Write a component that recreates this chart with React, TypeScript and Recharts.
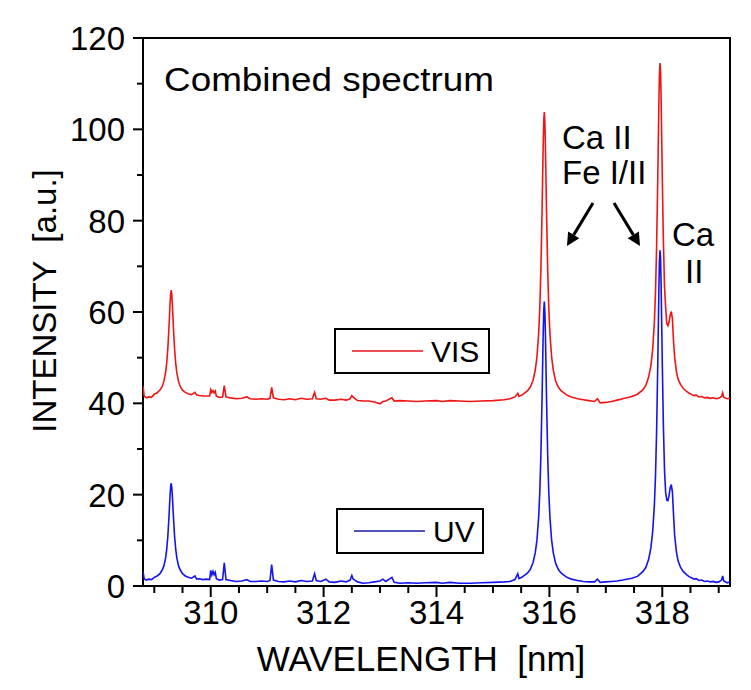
import React from 'react';
import { LineChart, Line, XAxis, YAxis, ReferenceArea, Legend } from 'recharts';

const wavelength = [
  308.80, 308.82, 308.86, 308.90, 308.95, 309.00, 309.05, 309.10, 309.14, 309.17,
  309.20, 309.22, 309.24, 309.26, 309.28, 309.29, 309.30, 309.31, 309.32, 309.34,
  309.36, 309.38, 309.40, 309.43, 309.46, 309.50, 309.55, 309.60, 309.66, 309.72,
  309.75, 309.80, 309.86, 309.92, 309.98, 310.00, 310.02, 310.04, 310.06, 310.08,
  310.10, 310.15, 310.21, 310.24, 310.27, 310.35, 310.45, 310.55, 310.64, 310.70,
  310.80, 310.90, 311.00, 311.05, 311.08, 311.11, 311.20, 311.30, 311.40, 311.50,
  311.60, 311.70, 311.80, 311.84, 311.87, 311.95, 312.04, 312.10, 312.20, 312.31,
  312.40, 312.47, 312.50, 312.52, 312.55, 312.60, 312.70, 312.80, 312.90, 313.00,
  313.05, 313.10, 313.21, 313.25, 313.35, 313.50, 313.65, 313.80, 314.00, 314.10,
  314.24, 314.40, 314.60, 314.80, 315.00, 315.20, 315.30, 315.39, 315.44, 315.46,
  315.51, 315.61, 315.66, 315.71, 315.75, 315.78, 315.81, 315.83, 315.85, 315.87,
  315.89, 315.90, 315.91, 315.92, 315.93, 315.95, 315.97, 315.99, 316.01, 316.04,
  316.07, 316.11, 316.16, 316.21, 316.31, 316.39, 316.50, 316.60, 316.70, 316.80,
  316.85, 316.90, 317.00, 317.10, 317.20, 317.30, 317.46, 317.56, 317.66, 317.71,
  317.76, 317.80, 317.83, 317.86, 317.88, 317.90, 317.92, 317.94, 317.95, 317.96,
  317.97, 317.98, 318.00, 318.02, 318.04, 318.06, 318.08, 318.10, 318.12, 318.14,
  318.16, 318.18, 318.20, 318.22, 318.25, 318.28, 318.32, 318.37, 318.43, 318.48,
  318.52, 318.56, 318.60, 318.65, 318.70, 318.75, 318.80, 318.85, 318.90, 318.95,
  319.00, 319.05, 319.07, 319.09, 319.15, 319.20,
];

const uvIntensity = [
  3.2, 1.6, 1.3, 1.5, 1.4, 1.9, 2.2, 2.7, 3.5, 4.4,
  6.1, 8.0, 10.9, 15.1, 20.0, 21.8, 22.5, 21.6, 19.8, 15.0,
  10.8, 8.0, 6.1, 4.4, 3.5, 2.7, 2.2, 1.9, 1.7, 2.2,
  1.5, 1.6, 1.4, 1.5, 1.4, 3.4, 2.4, 3.2, 2.5, 3.0,
  1.6, 1.3, 1.4, 5.1, 1.4, 1.2, 1.0, 1.1, 1.4, 1.0,
  1.0, 1.1, 1.0, 1.2, 4.7, 1.3, 1.0, 0.9, 1.1, 0.9,
  1.2, 1.0, 1.1, 2.7, 1.2, 1.0, 1.5, 0.9, 0.8, 1.1,
  0.9, 1.3, 2.3, 1.6, 1.3, 0.9, 0.6, 0.7, 0.9, 1.1,
  1.5, 1.0, 1.9, 0.8, 0.6, 0.7, 0.6, 0.7, 0.8, 0.6,
  0.8, 0.6, 0.6, 0.7, 0.8, 0.9, 1.0, 1.4, 2.7, 1.6,
  1.9, 2.8, 3.6, 5.1, 7.3, 10.1, 15.1, 20.5, 28.9, 41.0,
  55.1, 60.3, 62.3, 60.1, 54.8, 40.7, 28.6, 20.3, 15.0, 10.0,
  7.2, 5.0, 3.6, 2.8, 1.9, 1.5, 1.2, 1.0, 0.9, 0.9,
  1.5, 0.8, 0.9, 1.0, 1.1, 1.3, 1.7, 2.1, 3.2, 4.1,
  5.9, 8.5, 11.9, 17.7, 24.1, 34.0, 48.3, 65.0, 71.2, 73.5,
  71.8, 65.6, 49.1, 34.9, 25.3, 20.5, 18.8, 18.7, 19.8, 21.5,
  22.2, 20.5, 15.5, 11.0, 7.5, 5.5, 4.2, 3.2, 2.5, 2.0,
  1.8, 1.5, 1.6, 1.2, 1.3, 1.0, 1.1, 0.9, 1.0, 0.8,
  0.9, 1.3, 2.2, 1.1, 0.7, 0.9,
];

const visIntensity = [
  43.8, 41.6, 41.2, 41.4, 41.3, 42.0, 42.3, 42.9, 43.7, 44.8,
  46.7, 48.8, 52.0, 56.6, 62.0, 64.0, 64.8, 63.8, 61.7, 56.4,
  51.8, 48.7, 46.6, 44.8, 43.7, 42.9, 42.4, 42.1, 41.9, 42.4,
  41.8, 41.7, 41.6, 41.6, 41.6, 43.0, 42.4, 42.8, 42.3, 42.7,
  41.6, 41.3, 41.4, 43.9, 41.4, 41.2, 41.0, 41.1, 41.4, 41.0,
  40.9, 41.0, 40.9, 41.1, 43.5, 41.2, 40.9, 40.8, 41.0, 40.8,
  41.1, 40.9, 41.0, 42.4, 41.0, 40.9, 41.1, 40.7, 40.7, 40.9,
  40.7, 41.0, 41.7, 41.4, 41.1, 40.6, 40.5, 40.5, 40.3, 39.9,
  40.4, 40.5, 41.2, 40.5, 40.6, 40.5, 40.4, 40.5, 40.6, 40.4,
  40.6, 40.5, 40.4, 40.5, 40.6, 40.8, 41.0, 41.4, 42.2, 41.5,
  41.8, 42.7, 43.5, 45.0, 47.3, 50.2, 55.3, 60.9, 69.5, 81.9,
  96.4, 101.8, 103.8, 101.6, 96.1, 81.6, 69.2, 60.7, 55.2, 50.1,
  47.2, 44.9, 43.5, 42.7, 41.8, 41.4, 41.0, 40.8, 40.6, 40.4,
  41.0, 40.1, 40.2, 40.4, 40.7, 41.0, 41.5, 42.0, 43.0, 44.0,
  45.8, 48.4, 51.8, 57.7, 64.3, 74.4, 88.9, 105.9, 112.1, 114.5,
  112.7, 106.5, 89.8, 75.4, 65.5, 61.0, 57.5, 57.0, 57.8, 59.3,
  60.1, 58.5, 53.5, 50.0, 47.0, 45.3, 44.2, 43.3, 42.6, 42.2,
  41.9, 41.7, 41.8, 41.4, 41.5, 41.2, 41.3, 41.1, 41.2, 41.0,
  41.1, 41.5, 42.3, 41.3, 41.0, 41.1,
];

const xTicks = [309, 309.5, 310, 310.5, 311, 311.5, 312, 312.5, 313, 313.5, 314, 314.5, 315, 315.5, 316, 316.5, 317, 317.5, 318, 318.5, 319];
const xLabelTicks = [310, 312, 314, 316, 318];
const yTicks = [0, 10, 20, 30, 40, 50, 60, 70, 80, 90, 100, 110, 120];
const yLabelTicks = [0, 20, 40, 60, 80, 100, 120];

const data = wavelength.map((w, i) => ({ w, uv: uvIntensity[i], vis: visIntensity[i] }));

const FONT = '"Liberation Sans", Arial, Helvetica, sans-serif';
const FS = 33;

function XTick(props: any) {
  const { x, y, payload } = props;
  const v = payload.value;
  const major = xLabelTicks.includes(v);
  return (
    <g>
      <line x1={x} x2={x} y1={y} y2={y + (major ? 11 : 7)} stroke="#000" strokeWidth={2} />
      {major && (
        <text x={x} y={y + 38} textAnchor="middle" fontSize={FS} fontFamily={FONT} fill="#000">
          {v}
        </text>
      )}
    </g>
  );
}

function YTick(props: any) {
  const { x, y, payload } = props;
  const v = payload.value;
  const major = yLabelTicks.includes(v);
  return (
    <g>
      <line x1={x} x2={x - (major ? 10 : 6)} y1={y} y2={y} stroke="#000" strokeWidth={2} />
      {major && (
        <text x={x - 18} y={y + 12} textAnchor="end" fontSize={FS} fontFamily={FONT} fill="#000">
          {v}
        </text>
      )}
    </g>
  );
}

const legendBoxes: Record<string, { x: number; y: number; w: number; h: number; line: string }> = {
  VIS: { x: 335, y: 329, w: 154, h: 44, line: '#e8141e' },
  UV: { x: 337, y: 509, w: 146, h: 44, line: '#1a1aa0' },
};

function Overlay(props: any) {
  const payload = props.payload || [];
  return (
    <svg width={751} height={690} style={{ position: 'absolute', left: 0, top: 0, overflow: 'visible', pointerEvents: 'none' }}>
      {payload.map((p: any) => {
        const b = legendBoxes[p.value];
        if (!b) return null;
        const cy = b.y + b.h / 2;
        return (
          <g key={p.value}>
            <rect x={b.x} y={b.y} width={b.w} height={b.h} fill="#fff" stroke="#000" strokeWidth={2} />
            <line x1={b.x + 17} x2={b.x + 88} y1={cy} y2={cy} stroke={b.line} strokeWidth={1.5} />
            <text x={b.x + 96} y={cy + 11} fontSize={30} fontFamily={FONT} fill="#000">{p.value}</text>
          </g>
        );
      })}
      <text x={164} y={91} fontSize={33} fontFamily={FONT} fill="#000" textLength={330} lengthAdjust="spacingAndGlyphs">Combined spectrum</text>
      <text x={562} y={149} fontSize={33} fontFamily={FONT} fill="#000">Ca II</text>
      <text x={562} y={184} fontSize={33} fontFamily={FONT} fill="#000">Fe I/II</text>
      <text x={672} y={246} fontSize={33} fontFamily={FONT} fill="#000">Ca</text>
      <text x={685} y={283} fontSize={33} fontFamily={FONT} fill="#000">II</text>
      <line x1={593} y1={203} x2={573.7} y2={234.9} stroke="#000" strokeWidth={3} />
      <polygon points="567,246 579.3,238.3 568.1,231.5" fill="#000" />
      <line x1={614} y1={203} x2={633.3} y2={234.9} stroke="#000" strokeWidth={3} />
      <polygon points="640,246 638.9,231.5 627.7,238.3" fill="#000" />
      <text x={421} y={671} textAnchor="middle" fontSize={35} fontFamily={FONT} fill="#000" style={{ whiteSpace: 'pre' }}>{'WAVELENGTH  [nm]'}</text>
      <text transform="translate(56,301) rotate(-90)" textAnchor="middle" fontSize={33} fontFamily={FONT} fill="#000" style={{ whiteSpace: 'pre' }}>{'INTENSITY  [a.u.]'}</text>
    </svg>
  );
}

export default function App() {
  return (
    <div style={{ position: 'absolute', left: 0, top: 0, width: 751, height: 690, background: '#fff' }}>
      <LineChart width={751} height={690} data={data} margin={{ top: 38, right: 21, left: 83, bottom: 64 }}>
        <XAxis
          dataKey="w"
          type="number"
          domain={[308.8, 319.2]}
          ticks={xTicks}
          interval={0}
          allowDataOverflow
          axisLine={false}
          tickLine={false}
          tickSize={0}
          tickMargin={0}
          height={40}
          tick={<XTick />}
        />
        <YAxis
          type="number"
          domain={[0, 120]}
          ticks={yTicks}
          interval={0}
          allowDataOverflow
          axisLine={false}
          tickLine={false}
          tickSize={0}
          tickMargin={0}
          width={60}
          tick={<YTick />}
        />
        <Line dataKey="uv" name="UV" stroke="#1414f0" strokeWidth={1.6} dot={false} activeDot={false} isAnimationActive={false} />
        <Line dataKey="vis" name="VIS" stroke="#f01414" strokeWidth={1.6} dot={false} activeDot={false} isAnimationActive={false} />
        <ReferenceArea x1={308.8} x2={319.2} y1={0} y2={120} fill="none" stroke="#000" strokeWidth={2} />
        <Legend
          content={<Overlay />}
          wrapperStyle={{ position: 'absolute', left: 0, top: 0, width: 0, height: 0, margin: 0, padding: 0, overflow: 'visible' }}
        />
      </LineChart>
    </div>
  );
}
